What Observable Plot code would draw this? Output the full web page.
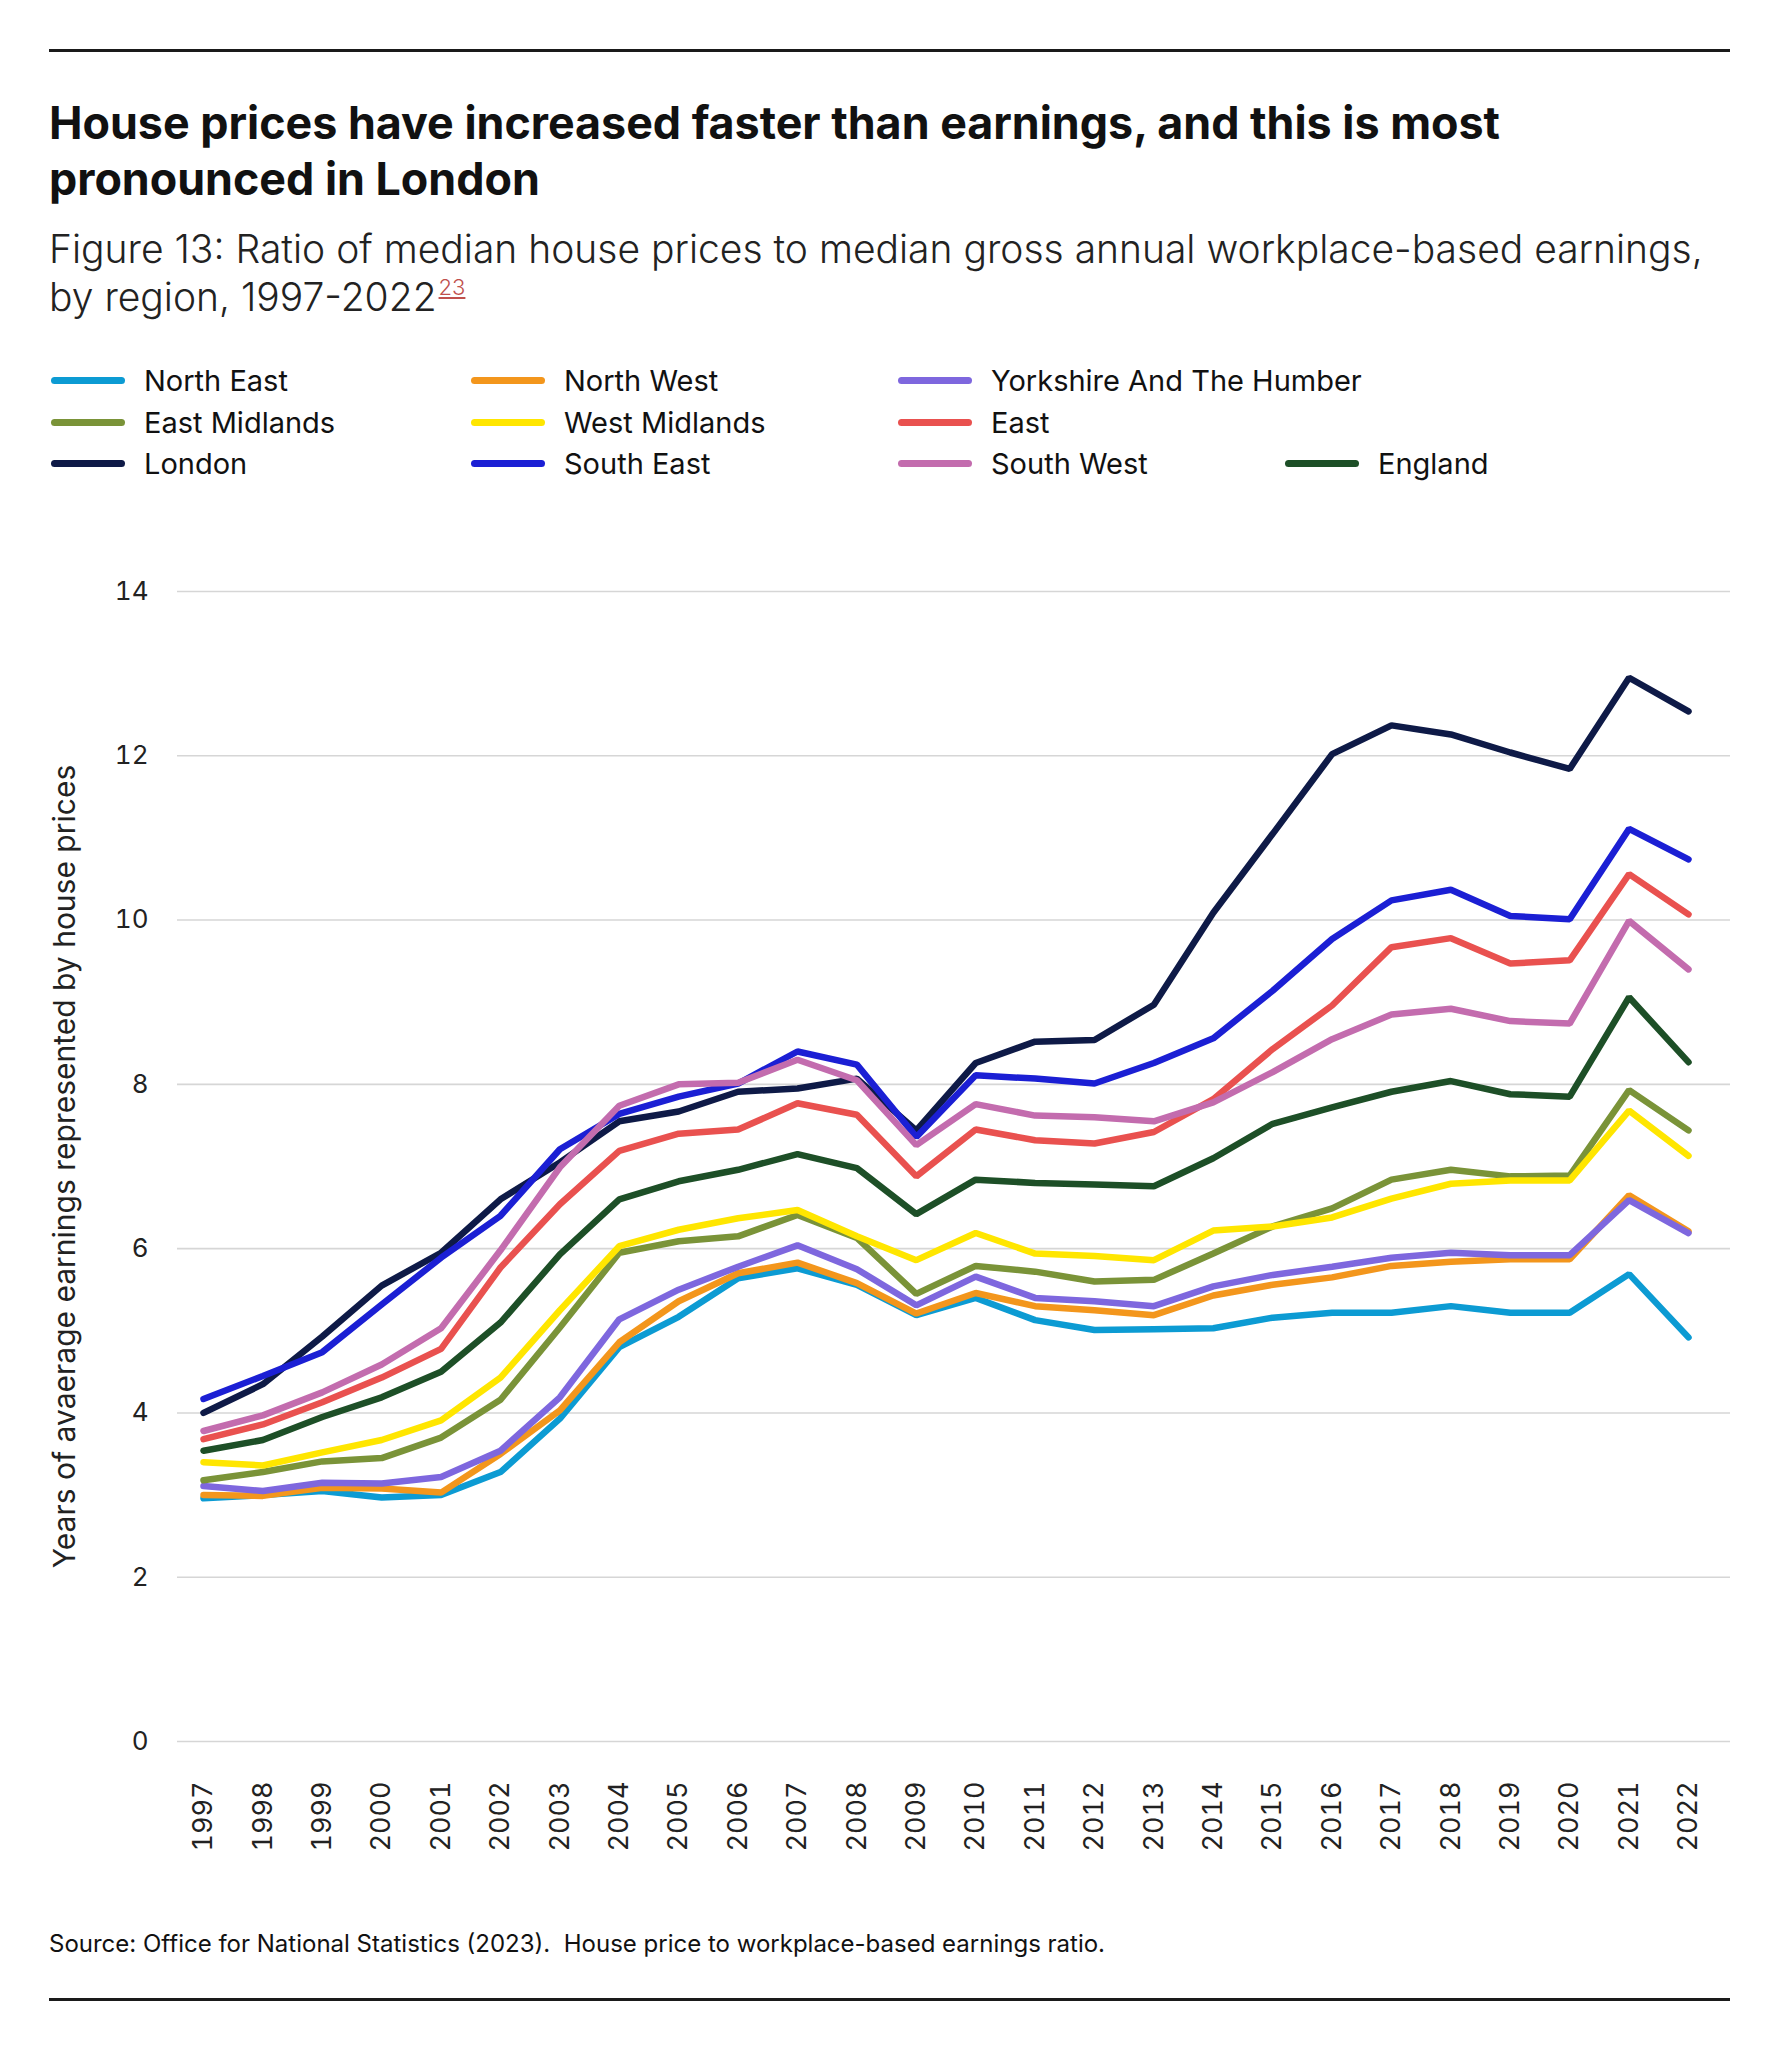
<!DOCTYPE html>
<html>
<head>
<meta charset="utf-8">
<script src="https://cdn.jsdelivr.net/npm/d3@7"></script>
<script src="https://cdn.jsdelivr.net/npm/@observablehq/plot@0.6"></script>
<style>
  html, body { margin: 0; padding: 0; background: #fff; }
  body { font-family: "Inter", "Roboto", sans-serif; color: #111; }
  #page { position: relative; width: 1768px; height: 2048px; background: #fff; }
  .rule { position: absolute; left: 49px; width: 1681px; height: 3px; background: #1a1a1a; }
  #title { position: absolute; left: 49px; top: 95px; width: 1580px; font-size: 44.8px; line-height: 56px; font-weight: 700; color: #111; }
  #subtitle { position: absolute; left: 49px; top: 225px; width: 1700px; font-size: 39px; line-height: 48px; font-weight: 300; color: #222; }
  #subtitle .fn { display: inline-block; font-size: 22px; line-height: 22px; color: #c0504d; text-decoration: underline; transform: translateY(-16px); margin-left: 2px; }
  .leg { position: absolute; height: 40px; display: flex; align-items: center; font-size: 29px; color: #111; white-space: nowrap; }
  .leg .sw { width: 74px; height: 7px; border-radius: 4px; margin-right: 19px; }
  #chart { position: absolute; left: 0; top: 540px; }
  #source { position: absolute; left: 49px; top: 1929px; font-size: 24px; color: #111; white-space: pre; }
</style>
</head>
<body>
<div id="page">
  <div class="rule" style="top:49px"></div>
  <div id="title">House prices have increased faster than earnings, and this is most pronounced in London</div>
  <div id="subtitle">Figure 13: Ratio of median house prices to median gross annual workplace-based earnings, by region, 1997-2022<span class="fn">23</span></div>
  <div id="legend"></div>
  <div id="chart"></div>
  <div id="source">Source: Office for National Statistics (2023).  House price to workplace-based earnings ratio.</div>
  <div class="rule" style="top:1998px"></div>
</div>
<script>
const years = [1997,1998,1999,2000,2001,2002,2003,2004,2005,2006,2007,2008,2009,2010,2011,2012,2013,2014,2015,2016,2017,2018,2019,2020,2021,2022];

const northEast   = [2.96,3.00,3.05,2.97,3.00,3.28,3.93,4.80,5.17,5.64,5.76,5.56,5.19,5.40,5.13,5.01,5.02,5.03,5.16,5.22,5.22,5.30,5.22,5.22,5.69,4.92];
const northWest   = [3.00,2.99,3.09,3.08,3.03,3.50,4.03,4.86,5.36,5.70,5.83,5.58,5.21,5.46,5.30,5.25,5.19,5.43,5.56,5.65,5.79,5.84,5.87,5.87,6.65,6.21];
const yorkshire   = [3.11,3.05,3.15,3.14,3.22,3.54,4.19,5.14,5.50,5.78,6.04,5.75,5.31,5.66,5.40,5.36,5.30,5.54,5.68,5.78,5.89,5.95,5.92,5.92,6.59,6.19];
const eastMidlands= [3.18,3.28,3.41,3.45,3.70,4.16,5.04,5.95,6.09,6.15,6.41,6.13,5.45,5.79,5.72,5.60,5.62,5.94,6.27,6.49,6.84,6.96,6.88,6.89,7.93,7.44];
const westMidlands= [3.40,3.36,3.52,3.67,3.91,4.43,5.25,6.03,6.23,6.37,6.47,6.15,5.86,6.19,5.94,5.91,5.86,6.22,6.27,6.38,6.61,6.79,6.83,6.83,7.68,7.13];
const east        = [3.68,3.86,4.13,4.43,4.78,5.77,6.54,7.19,7.40,7.45,7.77,7.63,6.88,7.45,7.32,7.28,7.42,7.82,8.43,8.96,9.67,9.78,9.47,9.51,10.56,10.07];
const london      = [4.00,4.35,4.93,5.55,5.95,6.60,7.05,7.55,7.67,7.91,7.95,8.07,7.44,8.26,8.52,8.54,8.97,10.09,11.05,12.02,12.37,12.26,12.04,11.84,12.95,12.54];
const southEast   = [4.17,4.45,4.74,5.32,5.89,6.40,7.21,7.64,7.85,8.01,8.40,8.24,7.36,8.11,8.07,8.01,8.26,8.56,9.14,9.77,10.24,10.37,10.05,10.01,11.11,10.74];
const southWest   = [3.78,3.97,4.25,4.59,5.03,5.98,6.99,7.74,8.00,8.02,8.30,8.05,7.26,7.76,7.62,7.60,7.55,7.78,8.15,8.55,8.85,8.92,8.77,8.74,9.99,9.40];
const england     = [3.54,3.67,3.95,4.19,4.50,5.10,5.93,6.60,6.82,6.96,7.15,6.98,6.42,6.84,6.80,6.78,6.76,7.10,7.52,7.72,7.91,8.04,7.88,7.85,9.06,8.27];

const regionNames = ["North East","North West","Yorkshire And The Humber","East Midlands","West Midlands","East","London","South East","South West","England"];
const regionValues = [northEast,northWest,yorkshire,eastMidlands,westMidlands,east,london,southEast,southWest,england];
const regionColors = ["#0c9bd3","#f3961c","#7e67de","#7a9338","#ffe600","#e9514f","#0e1a47","#1b1fd4","#c36cae","#1d4f27"];

const yTicks = [0,2,4,6,8,10,12,14];
const yLabel = "Years of avaerage earnings represented by house prices";

// legend (4 columns x 3 rows, as in the original)
const legendCols = [51, 471, 898, 1285];
const legendRows = [360, 402, 443];
const legendSlots = [[0,0],[1,0],[2,0],[0,1],[1,1],[2,1],[0,2],[1,2],[2,2],[3,2]];
const legend = document.getElementById("legend");
regionNames.forEach((name, i) => {
  const [c, r] = legendSlots[i];
  const el = document.createElement("div");
  el.className = "leg";
  el.style.left = legendCols[c] + "px";
  el.style.top = legendRows[r] + "px";
  el.innerHTML = `<span class="sw" style="background:${regionColors[i]}"></span><span>${name}</span>`;
  legend.appendChild(el);
});

const data = regionNames.flatMap((name, i) =>
  regionValues[i].map((v, j) => ({region: name, year: years[j], value: v}))
);

const chart = Plot.plot({
  width: 1768,
  height: 1340,
  marginLeft: 177,
  marginRight: 38,
  marginTop: 51,
  marginBottom: 139,
  x: {type: "linear", domain: [1997, 2022], insetLeft: 26, insetRight: 42},
  y: {domain: [0, 14]},
  color: {domain: regionNames, range: regionColors},
  style: {fontFamily: "Inter, Roboto, sans-serif", fontSize: "26px", color: "#222", background: "white"},
  marks: [
    Plot.gridY(yTicks, {stroke: "#d6d6d6", strokeOpacity: 1, strokeWidth: 1.6}),
    Plot.axisY(yTicks, {tickSize: 0, tickPadding: 29, tickFormat: d => String(d), label: null, fontSize: 26}),
    Plot.axisX(years, {tickSize: 0, tickRotate: -90, tickPadding: 40, tickFormat: d => String(d), label: null, fontSize: 27}),
    Plot.line(data, {x: "year", y: "value", z: "region", stroke: "region", strokeWidth: 6.5, strokeLinejoin: "miter", strokeLinecap: "round"}),
    Plot.text([yLabel], {frameAnchor: "left", textAnchor: "middle", rotate: -90, dx: -112, fontSize: 30, fill: "#222"})
  ]
});
document.getElementById("chart").appendChild(chart);
</script>
</body>
</html>
